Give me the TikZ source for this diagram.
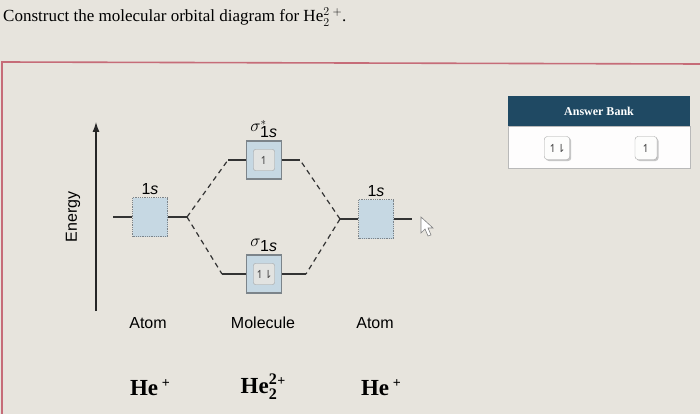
\documentclass[tikz,border=0pt]{standalone}
\usepackage{fontspec}
\setmainfont{Liberation Serif}
\setsansfont{Liberation Sans}
\newfontfamily\harpfont{DejaVu Sans}
\usepackage{tikz}
\usetikzlibrary{arrows.meta,positioning,shadows}

\definecolor{paper}{RGB}{231,228,221}
\definecolor{rim}{RGB}{198,108,120}
\definecolor{boxblue}{RGB}{198,216,227}
\definecolor{boxline}{RGB}{124,132,138}
\definecolor{tilegray}{RGB}{226,227,225}
\definecolor{bankblue}{RGB}{31,73,99}

\newcommand{\smallplus}{\raisebox{8pt}{\fontsize{14}{14}\selectfont +}}

\tikzset{
  aobox/.style={draw=boxline,line width=0.8pt,densely dotted,fill=boxblue,minimum width=35pt,minimum height=39pt,inner sep=0pt},
  mobox/.style={draw=boxline,line width=1.6pt,fill=boxblue,minimum width=35pt,minimum height=38pt,inner sep=0pt},
  tile/.style={draw=gray!75,fill=tilegray,rounded corners=2pt,minimum width=21pt,minimum height=21pt,inner sep=0pt,font=\harpfont\fontsize{11}{12}\selectfont,text=black!70},
  banktile/.style={draw=gray!70,fill=white!92!paper,rounded corners=3pt,minimum height=23pt,minimum width=22pt,inner sep=4pt,font=\harpfont\fontsize{11}{12}\selectfont,text=black!70,drop shadow={shadow xshift=1.5pt,shadow yshift=-1.5pt,fill=gray!45,opacity=1}},
  stub/.style={line width=1.3pt,black!80},
  link/.style={line width=1.2pt,black!80,dash pattern=on 5pt off 4pt},
  lbl/.style={font=\sffamily\fontsize{16}{18}\selectfont,inner sep=1pt},
  ion/.style={font=\bfseries\fontsize{23}{26}\selectfont}
}

\begin{document}
\begin{tikzpicture}[x=1pt,y=-1pt,>=Latex]
  \useasboundingbox (0,0) rectangle (700,414);
  \fill[paper] (0,0) rectangle (700,414);

  % question and panel border
  \node[anchor=base west,inner sep=0pt,font=\fontsize{17}{19}\selectfont] (title) at (3,22) {Construct the molecular orbital diagram for He$_2^{2}\,^{+}$.};
  \draw[rim,line width=1.6pt] (2,414) -- (2,62) -- (700,64);

  % energy axis
  \coordinate (ebot) at (96,311);
  \coordinate (etop) at (96,122);
  \draw[-{Latex[length=10pt,width=7pt]},line width=1.2pt,black!85] (ebot) -- (etop);
  \node[lbl,rotate=90] (energy) at (73,217) {Energy};

  % atomic orbitals
  \node[aobox] (aoL) at (150,217) {};
  \node[aobox] (aoR) at (376,219) {};
  \node[lbl,above=1pt of aoL] (aoLlbl) {1\textit{s}};
  \node[lbl,above=1pt of aoR] (aoRlbl) {1\textit{s}};

  % molecular orbitals
  \node[mobox] (mos) at (264,160) {};
  \node[mobox] (mob) at (264,274) {};
  \node[tile] (mostile) at (mos) {↿};
  \node[tile] (mobtile) at (mob) {↿\kern-1pt⇂};
  \node[lbl,above=1pt of mos] (moslbl) {$\sigma^{*}_{\textsf{1\textit{s}}}$};
  \node[lbl,above=1pt of mob] (moblbl) {$\sigma_{\textsf{1\textit{s}}}$};

  % stubs and correlation lines
  \coordinate (aoLa) at (113,217);
  \coordinate (aoLb) at (187,217);
  \coordinate (aoRa) at (340,219);
  \coordinate (aoRb) at (412,219);
  \coordinate (mosa) at (228,160);
  \coordinate (mosb) at (300,160);
  \coordinate (moba) at (222,274);
  \coordinate (mobb) at (306,274);
  \draw[stub] (aoLa) -- (aoL.west);
  \draw[stub] (aoL.east) -- (aoLb);
  \draw[stub] (aoRa) -- (aoR.west);
  \draw[stub] (aoR.east) -- (aoRb);
  \draw[stub] (mosa) -- (mos.west);
  \draw[stub] (mos.east) -- (mosb);
  \draw[stub] (moba) -- (mob.west);
  \draw[stub] (mob.east) -- (mobb);
  \draw[link] (aoLb) -- (mosa);
  \draw[link] (aoLb) -- (moba);
  \draw[link] (aoRa) -- (mosb);
  \draw[link] (aoRa) -- (mobb);

  % pointer
  \draw[gray,fill=white,line width=0.6pt] (421,217) -- (421,233) -- (425,229) -- (428,236) -- (431,235) -- (428,228) -- (433,228) -- cycle;

  % captions
  \node[lbl] (atomL) at (148,323) {Atom};
  \node[lbl] (mol) at (263,323) {Molecule};
  \node[lbl] (atomR) at (375,323) {Atom};
  \node[ion] (ionL) at (150,388) {He\,\smallplus};
  \node[ion] (ionM) at (263,387) {He$_{\mathbf{2}}^{\mathbf{2}}$\smallplus};
  \node[ion] (ionR) at (381,388) {He\,\smallplus};

  % answer bank
  \node[fill=bankblue,minimum width=182pt,minimum height=30pt,inner sep=0pt,text=white,font=\bfseries\fontsize{12}{14}\selectfont] (bank) at (599,111) {Answer Bank};
  \node[draw=gray!55,fill=white!94!paper,minimum width=182pt,minimum height=42pt,below=0pt of bank] (tray) {};
  \node[banktile] (pair) at (557,148) {↿\kern-1pt⇂};
  \node[banktile] (single) at (646,148) {↿};
\end{tikzpicture}
\end{document}
